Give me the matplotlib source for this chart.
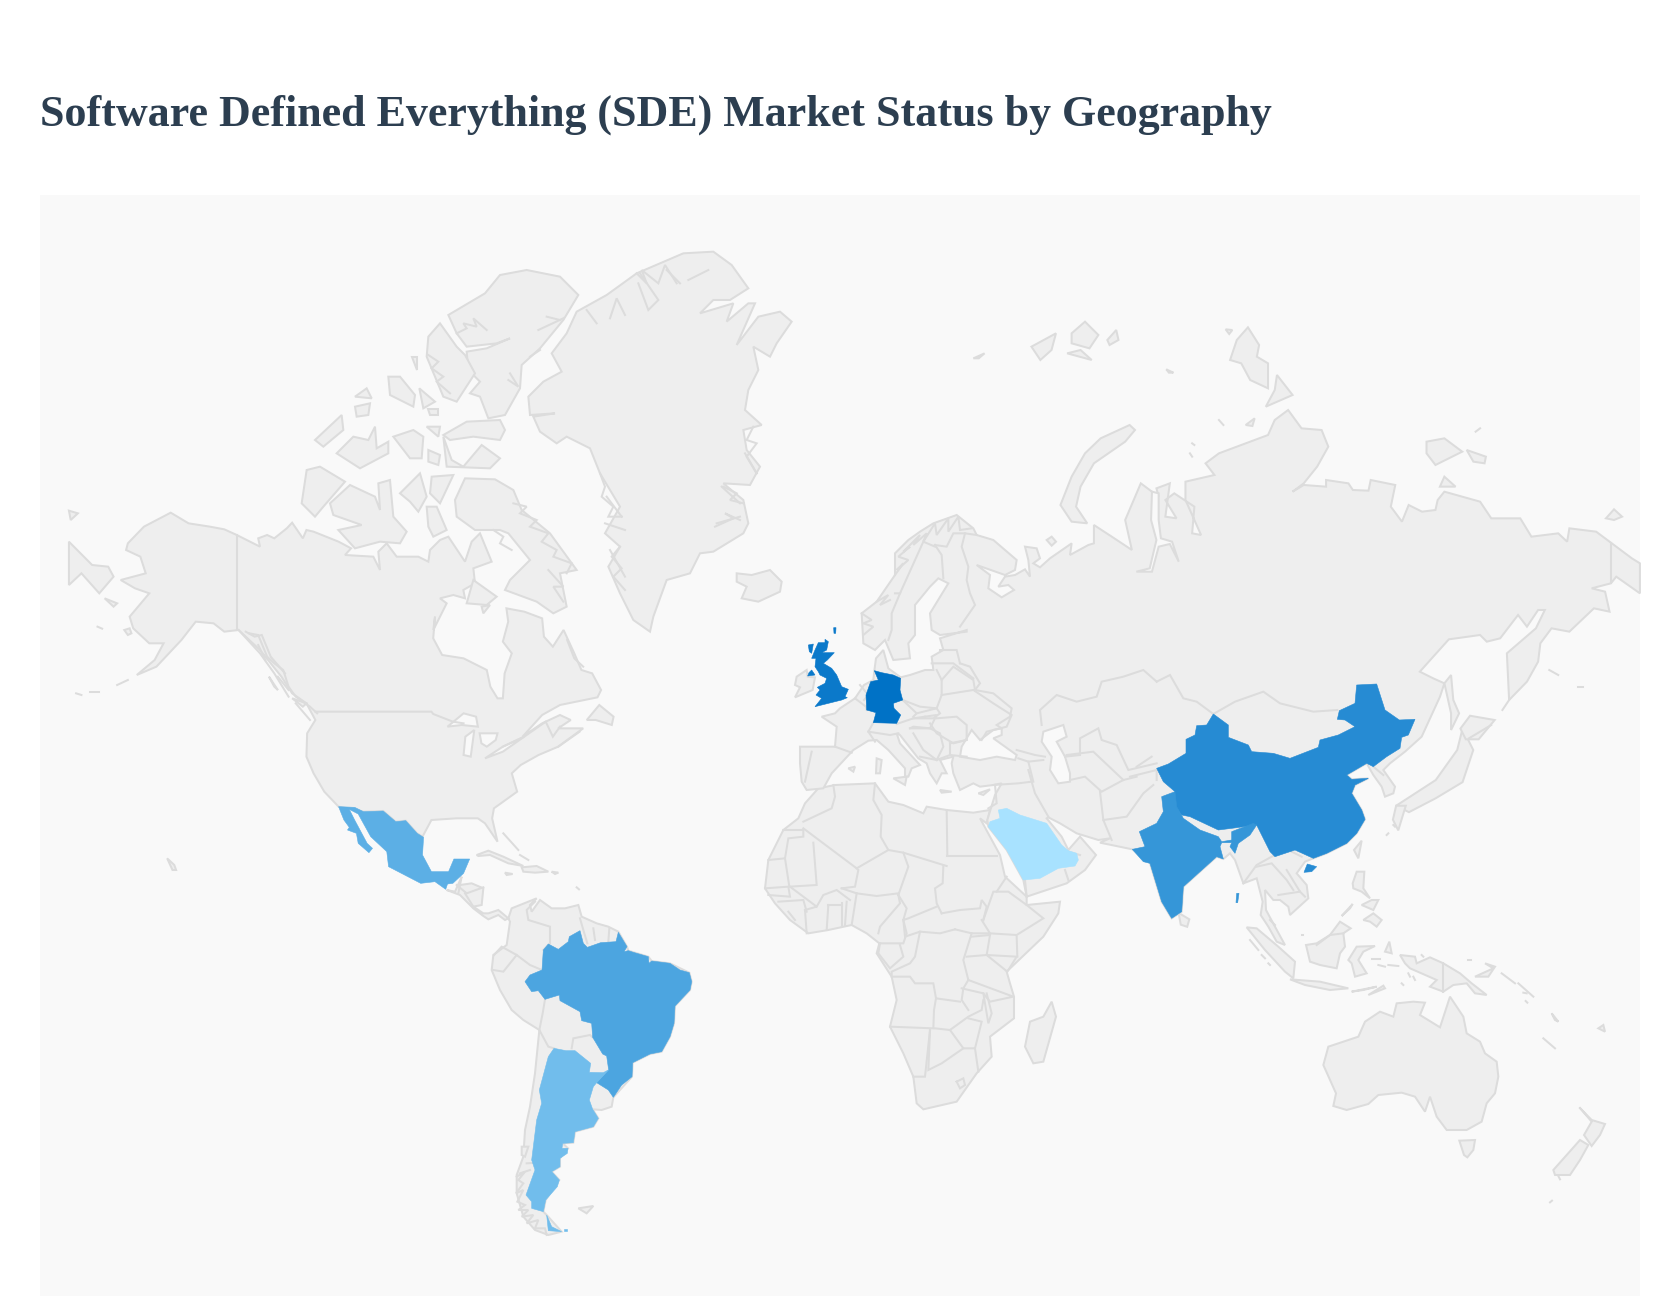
import numpy as np
import matplotlib
matplotlib.use("Agg")
import matplotlib.pyplot as plt
from matplotlib.colors import LinearSegmentedColormap, Normalize
from matplotlib.patches import Polygon, Rectangle

TITLE = "Software Defined Everything (SDE) Market Status by Geography"
COUNTRIES = ["Germany", "United Kingdom", "China", "India", "Brazil", "Mexico", "Argentina", "Saudi Arabia"]
VALUES = [100, 93, 77, 68, 55, 45, 33, 0]

Z1 = (740, 600, 3, 3); Z2 = (1100, 660, 3, 3); Z3 = (480, 900, 3, 3); Z4 = (300, 240, 3, 3)
Z5 = (60, 490, 2.8, 3); Z7 = (760, 780, 3, 3); Z8 = (960, 320, 2.24, 3); Z9 = (1230, 820, 3, 3)
Z10 = (960, 660, 3, 3); Z11 = (820, 480, 3, 3); Z12 = (440, 830, 3, 3); OV = (0, 0, 0.9333, 0.9333)

def rd(f, pts):
    a = np.array(pts, float)
    return np.column_stack([f[0] + a[:, 0] / f[2], f[1] + a[:, 1] / f[3]])

def chain(*parts):
    return np.vstack(parts)

# ---------- highlighted countries ----------
BRAZIL = [rd(Z3, [(415,97),(441,140),(432,155),(445,152),(460,157),(505,170),(507,190),(515,183),(570,190),(600,210),(628,218),(635,245),(630,270),(585,318),(582,370),(570,410),(545,455),(510,462),(458,488),(456,530),(425,555),(400,592),(385,570),(350,548),(386,510),(380,468),(368,462),(338,412),(335,370),(305,362),(300,335),(240,302),(238,285),(195,298),(175,272),(155,275),(135,245),(150,225),(186,210),(190,150),(205,132),(235,148),(265,125),(268,110),(300,92),(310,130),(322,142),(362,128),(408,125)])]
ARGENTINA = [rd(Z3, [(222,445),(258,452),(285,452),(332,490),(328,517),(370,518),(385,510),(350,548),(340,560),(328,600),(338,628),(355,655),(340,680),(285,695),(280,728),(248,730),(246,745),(264,745),(262,760),(240,775),(240,800),(215,815),(238,840),(232,860),(197,900),(190,935),(155,925),(155,905),(138,885),(165,810),(155,780),(165,700),(170,660),(185,610),(178,570),(205,470)]),
             rd(Z3, [(200,945),(215,980),(245,995),(205,992)]), rd(Z3, [(252,987),(262,987),(262,992),(252,992)])]
MEXICO = [rd(Z5, [(780,950),(825,952),(850,965),(905,963),(940,995),(968,992),(1000,1030),(1018,1042),(1015,1095),(1040,1145),(1088,1145),(1103,1107),(1147,1107),(1130,1150),(1100,1180),(1085,1182),(1080,1198),(1050,1175),(1010,1180),(920,1130),(915,1085),(870,1040),(835,972),(810,958),(825,990),(860,1060),(875,1075),(865,1088),(835,1060),(830,1030),(805,1020),(810,1012),(795,990)])]
UK = [rd(Z1, [(235,128),(255,128),(255,118),(265,125),(260,150),(245,158),(283,158),(262,180),(250,190),(275,205),(290,225),(305,260),(325,268),(315,290),(322,293),(305,300),(225,320),(245,295),(228,285),(240,270),(232,262),(255,250),(260,235),(240,225),(235,215),(225,200),(228,175),(215,175),(225,150)]),
      rd(Z1, [(215,210),(225,225),(203,228),(207,218)]), rd(Z1, [(205,135),(220,132),(215,160),(208,155)]),
      rd(Z1, [(281,83),(288,83),(287,100),(282,100)])]
GERMANY = [rd(Z1, [(403,212),(425,218),(460,225),(482,235),(480,270),(488,300),(460,310),(462,325),(482,345),(470,370),(400,368),(408,338),(380,330),(378,285),(392,245),(415,240)])]
CHINA = [rd(Z2, [(340,162),(385,195),(385,232),(445,255),(455,275),(520,280),(570,295),(655,262),(660,240),(715,225),(765,200),(735,180),(712,178),(718,152),(765,130),(770,75),(830,72),(855,150),(898,180),(945,178),(925,225),(905,232),(900,265),(860,290),(820,320),(800,310),(740,345),(755,358),(805,355),(765,375),(755,400),(785,450),(795,478),(770,520),(740,550),(680,580),(640,595),(585,570),(525,590),(510,575),(470,495),(395,505),(355,510),(270,470),(245,465),(225,440),(225,395),(190,365),(170,325),(205,312),(258,280),(258,238),(285,225),(290,197),(320,195)]),
         rd(Z2, [(622,612),(650,620),(635,635),(612,637)])]
INDIA = [rd(Z2, [(185,410),(225,395),(230,440),(250,475),(300,510),(355,530),(365,545),(395,540),(395,515),(460,490),(470,495),(450,525),(415,550),(405,580),(390,560),(395,548),(365,548),(360,560),(370,597),(350,590),(250,680),(245,755),(215,775),(185,725),(150,610),(130,605),(97,568),(135,560),(118,515),(170,490),(190,455)]),
         rd(Z2, [(410,700),(417,700),(413,728),(408,728)])]
SAUDI = [rd(Z7, [(740,85),(780,105),(860,130),(905,195),(925,212),(950,220),(955,240),(945,258),(895,265),(840,295),(790,300),(740,210),(685,140),(690,125),(720,115),(715,90)])]
SHAPES = [GERMANY, UK, CHINA, INDIA, BRAZIL, MEXICO, ARGENTINA, SAUDI]

# ---------- grey land ----------
NORTH_AMERICA = chain(
    rd(Z5, [(310,68),(360,100),(420,110),(460,118),(495,135),(560,170),(555,145),(580,135),(600,145),(635,115),(650,98),(680,145),(690,120),(710,125),(780,155),(815,175)]),
    rd(Z4, [(135,945),(220,950),(240,990),(235,935),(260,910),(290,950),(355,950),(385,965),(390,930),(420,900),(445,890),(495,965),(515,905),(540,880),(575,965),(520,985),(525,1030),(490,1050),(495,1075),(460,1065),(420,1075),(440,1090),(400,1170)]),
    rd(Z5, [(1050,380),(1045,445),(1070,495),(1130,505),(1195,540),(1205,590),(1225,625),(1240,625),(1245,550),(1265,490),(1240,455),(1255,395),(1250,355),(1300,365),(1350,385),(1355,440),(1380,470),(1410,420),(1440,490),(1460,540),(1490,550),(1515,600),(1505,622),(1400,645),(1350,675),(1295,740),(1350,700),(1400,675),(1430,690),(1395,715),(1465,715),(1395,770),(1340,795),(1290,825),(1265,850),(1280,905),(1215,955),(1210,985),(1225,1055),(1190,1000),(1170,985),(1110,985),(1040,990),(1015,1040),(1000,1030),(968,992),(940,995),(905,963),(850,965),(780,950),(740,905),(710,850),(690,800),(692,730),(715,690),(690,640),(650,610),(620,560),(560,480),(500,420),(460,425),(430,400),(380,395),(340,450),(270,530),(215,555),(265,510),(290,460),(250,460),(205,415),(195,380),(250,310),(210,295),(170,270),(240,250),(225,200),(185,180),(190,160),(235,110)]))
GREENLAND = rd(Z4, [(685,470),(730,425),(785,395),(755,340),(800,280),(830,215),(920,165),(1010,100),(1150,40),(1240,35),(1295,75),(1345,145),(1290,180),(1240,180),(1200,220),(1300,190),(1280,245),(1345,190),(1365,190),(1310,315),(1375,230),(1440,215),(1475,245),(1430,310),(1410,350),(1360,320),(1375,390),(1345,450),(1335,510),(1385,555),(1330,570),(1340,630),(1380,680),(1350,735),(1270,730),(1330,780),(1345,850),(1330,880),(1240,935),(1200,940),(1170,1000),(1100,1020),(1060,1130),(1050,1175),(1000,1140),(960,1060),(925,980),(960,920),(915,880),(960,800),(900,700),(870,625),(800,590),(770,610),(720,575),(700,530),(765,520),(690,525)])
SOUTH_AMERICA = chain(
    rd(Z12, [(205,265),(215,235),(290,205),(270,225),(275,245),(300,210),(335,235),(375,235),(415,225),(425,260),(470,280),(505,290),(535,305)]),
    rd(Z3, [(441,140),(445,152),(505,170),(515,183),(570,190),(628,218),(635,245),(630,270),(585,318),(582,370),(570,410),(545,455),(510,462),(458,488),(456,530),(400,592),(395,620),(365,630),(338,628),(355,655),(340,680),(285,695),(280,728),(248,730),(264,745),(240,775),(240,800),(215,815),(238,840),(197,900),(190,935),(200,945),(245,995),(205,1005),(165,990),(130,950),(110,880),(110,825),(130,770),(135,690),(150,620),(165,520),(178,390),(130,360),(95,330),(60,270),(35,210),(40,165),(80,135),(90,65)]))
CENTRAL_AMERICA = rd(Z12, [(20,180),(45,185),(65,140),(60,165),(95,160),(130,175),(125,225),(100,230),(130,250),(145,250),(175,240),(205,265),(195,270),(175,255),(145,268),(130,258),(100,235),(60,195)])
AFRICA = rd(Z7, [(175,25),(225,15),(345,10),(385,65),(430,75),(490,100),(500,80),(560,90),(640,98),(690,90),(680,130),(660,115),(720,225),(735,290),(800,350),(800,375),(900,365),(895,400),(850,470),(740,575),(750,610),(762,650),(762,715),(690,770),(695,830),(650,880),(590,965),(490,988),(470,970),(460,890),(430,820),(390,740),(410,660),(395,590),(350,520),(358,490),(320,460),(275,435),(205,450),(145,460),(90,420),(45,370),(15,325),(25,240),(70,150),(115,115),(135,70)])
EURASIA = chain(
    rd(Z1, [(200,570),(185,545),(180,490),(180,440),(285,440),(290,380),(245,350),(285,340),(300,325),(345,295),(372,255),(400,240),(403,212),(408,175),(430,150),(445,205),(482,232),(510,225),(555,210),(580,210),(575,170),(610,150),(600,115),(680,90)]),
    rd(Z11, [(440,455),(360,465),(335,450),(330,400),(385,310),(355,295),(330,320),(285,375),(285,465),(265,490),(270,535),(220,540),(195,480),(165,510),(130,490),(125,400),(170,365),(225,285),(225,220),(265,180),(300,155),(340,130),(410,105),(460,145),(470,165),(520,180),(590,240),(585,270),(555,285),(470,255),(510,285),(505,325),(545,352),(582,330),(565,315),(535,320),(555,290),(585,285),(615,268),(630,290),(625,240),(615,200),(650,205),(660,235),(640,250),(660,262),(690,235),(755,190),(750,225),(805,195)]),
    rd(Z8, [(300,670),(300,615),(340,650),(385,690),(370,600),(405,490),(430,515),(445,530),(440,505),(470,490),(460,590),(485,595),(460,540),(480,520),(525,560),(520,640),(540,645),(505,540),(505,485),(570,465),(550,430),(580,400),(640,370),(690,345),(705,300),(735,270),(765,325),(810,330),(825,380),(800,440),(770,490),(745,515),(770,495),(820,500),(820,480),(870,490),(880,510),(915,512),(920,480),(975,495),(965,560),(990,605),(1005,555),(1035,575),(1065,570),(1070,540),(1085,515),(1165,545),(1190,595),(1255,595),(1280,650),(1340,640),(1360,665),(1365,625),(1425,635),(1505,715),(1523,730),(1523,820),(1470,770),(1458,790),(1415,805),(1445,815),(1455,875),(1420,865),(1365,935),(1325,925),(1300,970),(1295,1025),(1270,1085),(1230,1140),(1225,1000),(1290,925),(1310,870),(1295,870),(1270,920),(1250,885),(1210,955),(1180,965),(1165,945),(1095,958),(1030,1055),(1060,1075),(1085,1090)]),
    rd(Z2, [(1020,110),(965,230),(915,275),(870,310),(850,330),(885,380),(880,400),(855,410),(845,380),(820,345),(800,310),(740,345),(755,358),(805,355),(765,375),(755,400),(785,450),(795,478),(770,520),(740,550),(680,580),(640,595)]),
    rd(Z9, [(225,125),(200,160),(230,195),(235,235),(180,285),(175,260),(150,240),(130,240),(105,210),(108,270),(135,320),(165,375),(140,365),(115,320),(92,285),(98,245),(80,175),(40,190),(15,120),(0,100)]),
    rd(Z2, [(370,597),(350,590),(250,680),(245,755),(215,775),(185,725),(150,610),(97,568),(0,548)]),
    rd(Z10, [(450,535),(415,540),(350,520),(300,490),(265,472)]),
    rd(Z7, [(860,115),(905,170),(925,210),(960,170),(1008,225),(975,270),(920,310),(800,350),(790,300),(740,210),(685,140),(682,120),(705,45),(725,10)]),
    rd(Z10, [(100,375),(60,380),(40,370),(0,390)]),
    rd(Z1, [(640,520),(635,490),(640,470),(600,480),(620,520),(605,520),(590,550),(570,520),(560,490),(535,475),(480,405),(470,400),(480,430),(540,495),(515,505),(505,530),(495,530),(495,505),(445,450),(410,420),(385,422),(340,450),(275,520),(250,565)]))
ISLANDS = [
    rd(Z4, [(445,225),(555,160),(600,105),(680,90),(780,110),(835,165),(790,240),(720,325),(665,375),(660,445),(615,525),(565,535),(540,470),(510,460),(540,425),(505,390),(500,335),(560,325),(630,295),(590,310),(500,320),(470,280)]),
    rd(Z4, [(420,250),(470,320),(495,345),(525,400),(470,485),(430,470),(405,410),(380,350),(385,290)]),
    rd(Z4, [(430,585),(500,545),(600,540),(615,570),(600,600),(520,590),(450,600)]),
    rd(Z4, [(430,590),(455,660),(490,680),(545,615),(600,655),(570,685),(440,680)]),
    rd(Z4, [(5,790),(20,690),(60,680),(135,725),(70,800),(45,830)]),
    rd(Z4, [(90,790),(150,735),(225,770),(240,810),(235,730),(270,720),(280,830),(320,875),(300,910),(240,905),(165,925),(115,870),(185,855),(100,825)]),
    rd(Z4, [(300,760),(360,700),(380,770),(355,815),(330,785)]),
    rd(Z4, [(395,710),(460,705),(420,790),(390,760)]),
    rd(Z4, [(380,800),(410,800),(440,870),(400,890),(385,860)]),
    rd(Z4, [(465,780),(495,715),(585,718),(640,750),(665,810),(750,880),(830,990),(780,1000),(800,1100),(760,1120),(710,1085),(615,1050),(630,1020),(690,960),(625,880),(600,870),(525,870),(470,830)]),
    rd(Z4, [(110,640),(160,590),(205,600),(225,560),(230,625),(265,605),(265,640),(180,685)]),
    rd(Z4, [(280,590),(340,570),(370,590),(365,655),(330,655)]),
    rd(Z4, [(45,600),(125,525),(130,570),(70,620)]),
    rd(Z4, [(265,410),(300,410),(345,465),(340,500),(270,465)]),
    rd(Z4, [(358,445),(405,485),(370,505)]),
    rd(Z4, [(385,507),(415,507),(415,525),(390,525)]),
    rd(Z4, [(165,470),(200,445),(215,475)]),
    rd(Z4, [(165,500),(210,490),(205,525),(170,530)]),
    rd(Z4, [(380,560),(420,560),(415,590)]),
    rd(Z4, [(385,630),(420,645),(415,675),(385,665)]),
    rd(Z4, [(500,1090),(520,1020),(590,1070),(560,1095)]),
    rd(Z4, [(545,1100),(570,1095),(550,1120)]),
    rd(Z4, [(335,350),(350,350),(350,390)]),
    rd(Z4, [(1310,1000),(1355,1005),(1410,990),(1445,1025),(1440,1055),(1375,1085),(1325,1075),(1340,1040),(1310,1025)]),
    rd(Z5, [(25,155),(90,225),(135,230),(150,260),(110,310),(60,250),(25,285)]),
    rd(Z5, [(125,325),(160,340),(150,350)]),
    rd(Z5, [(25,62),(50,70),(30,90)]),
    rd(Z5, [(300,1105),(320,1125),(325,1140),(315,1140)]),
    rd(Z5, [(180,420),(195,415),(200,430),(190,435)]),
    rd(Z5, [(1475,690),(1510,645),(1550,680),(1545,705),(1500,690)]),
    rd(Z5, [(585,560),(610,600),(600,590)]),
    rd(Z5, [(650,625),(690,640),(680,650)]),
    rd(Z12, [(110,75),(145,62),(190,80),(250,108),(205,100),(150,75),(115,78)]),
    rd(Z12, [(245,112),(290,108),(325,125),(285,128),(250,125)]),
    rd(Z12, [(195,128),(218,132),(200,135)]),
    rd(Z12, [(335,125),(355,128),(345,132)]),
    rd(Z1, [(170,230),(200,210),(203,230),(225,232),(218,270),(165,292),(180,262),(165,255)]),
    rd(Z1, [(410,475),(425,480),(420,520),(408,520)]),
    rd(Z1, [(460,535),(500,530),(495,555)]),
    rd(Z1, [(600,570),(635,575),(605,578)]),
    rd(Z1, [(325,505),(345,500),(340,515)]),
    rd(Z7, [(875,665),(888,710),(850,845),(820,850),(795,800),(810,725),(850,710)]),
    rd(Z3, [(295,925),(340,918),(320,940)]),
    rd(Z3, [(125,740),(145,740),(135,770),(125,765)]),
    rd(Z8, [(315,355),(380,315),(392,330),(370,365),(300,430),(270,500),(260,560),(285,610),(250,605),(225,555),(250,470),(280,400)]),
    rd(Z8, [(645,22),(670,75),(665,110),(690,130),(690,205),(650,180),(630,130),(605,120),(620,60)]),
    rd(Z8, [(710,165),(745,225),(685,260),(705,210)]),
    rd(Z8, [(160,80),(215,40),(205,90),(180,120)]),
    rd(Z8, [(250,40),(280,5),(310,45),(290,85),(250,70)]),
    rd(Z8, [(240,100),(270,90),(295,120)]),
    rd(Z8, [(330,60),(350,30),(355,60),(335,75)]),
    rd(Z8, [(1045,365),(1085,355),(1125,395),(1065,435),(1045,400)]),
    rd(Z8, [(1135,390),(1178,410),(1175,430),(1150,425)]),
    rd(Z8, [(1075,500),(1085,470),(1110,500)]),
    rd(Z8, [(1447,595),(1465,568),(1483,590),(1465,600)]),
    rd(Z8, [(30,115),(55,100),(42,115)]),
    rd(Z8, [(595,28),(610,30),(603,42)]),
    rd(Z8, [(640,315),(660,295),(655,318)]),
    rd(Z8, [(462,148),(478,158),(468,158)]),
    rd(Z8, [(1085,1090),(1100,1065),(1105,1140),(1118,1180),(1100,1230),(1100,1180)]),
    rd(Z11, [(680,180),(695,170),(708,185),(695,197)]),
    rd(OV, [(1303,752),(1340,728),(1360,700),(1365,680),(1375,700),(1365,730),(1340,745),(1315,758)]),
    rd(OV, [(1363,680),(1372,668),(1395,672),(1380,690),(1368,690)]),
    rd(OV, [(1303,752),(1312,752),(1305,775),(1300,765)]),
    rd(OV, [(1100,852),(1110,858),(1108,865),(1102,863)]),
    rd(Z10, [(55,400),(90,388),(70,405)]),
    rd(Z9, [(50,322),(80,325),(145,380),(195,425),(190,475),(165,455),(105,390)]),
    rd(Z9, [(180,478),(270,485),(355,505),(300,510),(225,495)]),
    rd(Z9, [(228,375),(260,370),(300,345),(330,305),(362,325),(340,340),(345,380),(330,400),(320,445),(270,435),(240,425)]),
    rd(Z9, [(355,420),(380,380),(435,378),(400,395),(385,420),(410,460),(375,470),(365,430)]),
    rd(Z9, [(368,190),(380,155),(403,155),(400,205),(420,235),(395,215),(370,205)]),
    rd(Z9, [(400,300),(430,280),(455,300),(440,320),(420,305)]),
    rd(Z9, [(395,255),(425,240),(445,240),(430,270)]),
    rd(Z9, [(335,288),(368,252),(360,265)]),
    rd(Z9, [(372,90),(395,62),(385,115)]),
    rd(Z9, [(510,405),(555,410),(560,430),(600,412),(640,430),(690,460),(725,490),(770,525),(735,520),(710,490),(670,495),(640,515),(600,500),(620,480),(540,445),(525,430)]),
    rd(Z9, [(735,470),(790,445),(765,430),(795,440),(775,470)]),
    rd(Z9, [(415,525),(460,497),(465,505)]),
    rd(Z9, [(365,515),(440,500),(400,510)]),
    rd(Z9, [(465,395),(478,365),(485,400)]),
    rd(Z9, [(1048,862),(1085,900),(1125,912),(1110,945),(1085,978),(1062,945),(1085,905)]),
    rd(Z9, [(970,1050),(1050,960),(1075,975),(1050,1020),(1020,1065),(975,1065)]),
    rd(Z9, [(280,735),(295,680),(385,650),(405,605),(450,575),(490,590),(500,550),(550,545),(585,548),(570,585),(630,622),(660,530),(700,590),(710,640),(750,665),(765,700),(800,725),(805,770),(795,820),(770,850),(755,905),(710,930),(650,930),(620,890),(600,830),(585,875),(555,830),(515,818),(445,825),(415,852),(350,870),(310,858),(318,820)]),
    rd(Z9, [(688,962),(735,960),(730,990),(712,1012),(702,1005)]),
    rd(Z9, [(1105,625),(1120,615),(1125,635)]),
    rd(Z9, [(965,580),(985,605),(975,600)]),
]
SEAS = [
    rd(Z10, [(5,260),(35,210),(60,240),(100,210),(125,205),(125,225),(100,235),(170,285),(165,300),(110,290),(60,300),(0,290)]),
    rd(Z10, [(250,215),(310,195),(320,230),(290,245),(315,290),(330,340),(330,365),(295,370),(270,330),(275,290),(245,245)]),
    rd(Z5, [(1085,710),(1130,670),(1165,680),(1170,710),(1125,705)]),
    rd(Z5, [(1135,740),(1160,720),(1150,800),(1130,795)]),
    rd(Z5, [(1175,730),(1225,730),(1220,750),(1195,770),(1180,760)]),
    rd(Z5, [(1190,805),(1240,770),(1300,740),(1240,785)]),
    rd(Z8, [(430,515),(445,520),(445,600),(450,655),(475,665),(490,725),(470,672),(445,680),(430,755),(395,755),(425,745),(440,660),(428,600)]),
]
BORDERS = [
    # Americas
    rd(Z5, [(495,135),(495,420)]),
    rd(Z5, [(715,665),(1040,665),(1045,672),(1100,695),(1130,700)]),
    rd(Z5, [(1240,770),(1300,740),(1360,695),(1380,740),(1400,710)]),
    rd(Z5, [(500,420),(560,490),(600,550),(640,620)]),
    rd(Z5, [(520,425),(545,440),(565,435),(590,500),(630,550)]),
    rd(Z3, [(165,5),(140,30),(145,60),(210,80),(210,130),(190,150)]),
    rd(Z3, [(42,165),(65,140),(110,165),(150,195),(186,210)]),
    rd(Z3, [(40,210),(70,215),(110,165)]),
    rd(Z3, [(195,298),(188,340),(178,390),(205,440),(222,445)]),
    rd(Z3, [(275,445),(280,415),(330,405),(338,412)]),
    rd(Z3, [(300,55),(310,90),(322,130)]),
    rd(Z3, [(340,85),(345,120)]), rd(Z3, [(388,85),(385,125)]),
    rd(Z12, [(60,165),(55,190)]), rd(Z12, [(50,165),(80,190),(130,172)]), rd(Z12, [(100,230),(75,190)]),
    # Africa
    rd(Z7, [(130,125),(215,85),(225,50),(220,15)]),
    rd(Z7, [(70,150),(130,150),(130,170),(85,175),(75,235),(25,240)]),
    rd(Z7, [(160,188),(170,315),(88,320),(75,235)]),
    rd(Z7, [(130,145),(290,265),(385,210)]),
    rd(Z7, [(290,265),(295,270),(285,320),(245,325)]),
    rd(Z7, [(345,10),(340,60),(365,105),(362,170),(385,210),(430,218),(560,258)]),
    rd(Z7, [(560,90),(562,225)]), rd(Z7, [(562,228),(710,228)]),
    rd(Z7, [(430,218),(445,260),(415,345)]),
    rd(Z7, [(245,325),(290,340),(350,348),(415,340)]),
    rd(Z7, [(550,258),(548,310),(525,325),(530,370),(545,400)]),
    rd(Z7, [(415,345),(440,385),(430,420),(445,415),(530,380)]),
    rd(Z7, [(415,345),(420,370),(360,440),(355,460)]),
    rd(Z7, [(290,340),(275,435)]), rd(Z7, [(260,365),(255,435)]), rd(Z7, [(245,370),(245,435)]),
    rd(Z7, [(205,375),(200,450)]), rd(Z7, [(205,375),(245,375)]),
    rd(Z7, [(170,380),(190,345),(230,330),(270,360)]),
    rd(Z7, [(135,390),(140,460)]),
    rd(Z7, [(15,325),(85,320),(90,350),(25,345)]),
    rd(Z7, [(55,365),(130,360),(140,395)]), rd(Z7, [(85,395),(105,420)]),
    rd(Z7, [(90,320),(170,380),(135,390)]),
    rd(Z7, [(360,490),(430,490),(440,460),(430,420)]),
    rd(Z7, [(430,420),(435,470),(480,455),(540,460),(585,448)]),
    rd(Z7, [(545,400),(600,390),(660,385),(665,360),(680,380),(670,420)]),
    rd(Z7, [(585,448),(635,460),(690,460),(665,420)]),
    rd(Z7, [(635,460),(610,540),(625,600),(610,625),(605,660),(625,690)]),
    rd(Z7, [(480,455),(465,530),(450,550),(395,575),(395,590),(450,590),(465,610),(520,610),(528,655),(600,665)]),
    rd(Z7, [(360,490),(355,520),(390,565),(430,530),(420,495)]),
    rd(Z7, [(528,655),(522,690),(520,745),(390,740)]),
    rd(Z7, [(525,745),(570,750),(625,710),(665,690),(670,660)]),
    rd(Z7, [(625,600),(760,650),(690,665),(670,640),(605,625)]),
    rd(Z7, [(680,525),(770,530),(742,575),(680,525)]),
    rd(Z7, [(635,470),(690,465),(680,525),(620,530)]),
    rd(Z7, [(770,470),(772,530)]),
    rd(Z7, [(670,420),(700,335),(745,335),(800,375),(850,415),(770,465),(690,460)]),
    rd(Z7, [(710,335),(740,290)]),
    rd(Z7, [(670,640),(685,730),(695,700),(680,640)]),
    rd(Z7, [(570,750),(610,805),(645,805),(665,725),(625,715)]),
    rd(Z7, [(510,750),(505,870),(545,850),(610,805)]),
    rd(Z7, [(510,750),(495,890),(460,890)]),
    rd(Z7, [(645,805),(655,875)]),
    rd(Z7, [(590,905),(610,895),(615,915),(600,925),(590,905)]),
    # Europe
    rd(Z1, [(215,455),(195,545)]),
    rd(Z1, [(285,440),(335,458)]),
    rd(Z1, [(345,295),(378,320),(380,330)]),
    rd(Z1, [(400,368),(385,395),(405,425)]),
    rd(Z1, [(360,255),(385,285),(372,300)]),
    rd(Z1, [(470,372),(520,355),(555,350)]),
    rd(Z1, [(385,395),(450,405),(475,400)]),
    rd(Z1, [(488,300),(540,320),(590,325),(605,285),(605,240),(590,210)]),
    rd(Z1, [(488,300),(530,340),(520,350)]),
    rd(Z1, [(530,340),(590,325),(600,340),(580,355),(520,355)]),
    rd(Z1, [(605,285),(700,270),(760,310),(815,345),(800,380),(740,395),(725,420)]),
    rd(Z1, [(605,240),(640,200),(700,240),(705,270)]),
    rd(Z1, [(575,190),(640,190),(700,235)]),
    rd(Z1, [(600,150),(650,150),(660,190)]),
    rd(Z1, [(590,355),(650,350),(680,375),(680,420),(640,430),(590,400),(570,370)]),
    rd(Z1, [(630,430),(680,420)]), rd(Z1, [(630,430),(630,465),(680,470)]),
    rd(Z1, [(555,350),(590,345),(570,385),(520,380),(510,385)]),
    rd(Z1, [(510,385),(570,385),(600,400),(610,440),(590,480)]),
    rd(Z1, [(540,470),(590,480),(630,465)]),
    rd(Z1, [(520,400),(550,450),(590,480)]),
    rd(Z11, [(225,340),(240,340),(215,400),(215,450),(205,480)]),
    rd(Z11, [(240,340),(310,185),(345,200)]),
    rd(Z11, [(345,195),(365,225),(370,295)]),
    rd(Z11, [(435,160),(425,200),(445,260),(440,300),(450,340),(465,375),(420,440)]),
    rd(Z11, [(345,195),(380,200),(400,160),(435,160),(470,165)]),
    # Asia
    rd(Z10, [(0,10),(30,20),(60,70),(45,90),(100,100),(155,145),(150,170),(110,195),(125,205)]),
    rd(Z10, [(245,195),(240,150),(290,105),(350,125),(410,110),(425,65),(490,50),(550,30),(590,65)]),
    rd(Z2, [(170,65),(210,45),(250,115),(290,125),(340,162)]),
    rd(Z2, [(340,162),(405,125),(490,95),(540,130),(640,155),(712,150)]),
    rd(Z10, [(170,270),(225,285),(255,290)]),
    rd(Z10, [(175,295),(205,305),(250,300)]),
    rd(Z10, [(205,305),(220,365)]),
    rd(Z10, [(205,330),(225,400),(265,470)]),
    rd(Z10, [(100,375),(175,370),(215,365)]),
    rd(Z10, [(105,375),(110,430),(85,445)]),
    rd(Z10, [(420,395),(430,480),(455,540)]),
    rd(Z10, [(330,360),(375,350),(425,395),(490,360),(530,350)]),
    rd(Z10, [(430,480),(500,470),(550,400),(580,375)]),
    rd(Z10, [(315,290),(360,285),(360,235),(415,205),(425,240),(470,255),(505,330),(590,310)]),
    rd(Z10, [(320,285),(400,275),(490,360)]),
    rd(Z10, [(510,350),(590,330),(590,360)]),
    rd(Z10, [(530,320),(575,290)]),
    rd(Z7, [(800,350),(795,300)]), rd(Z7, [(915,270),(925,300)]), rd(Z7, [(925,215),(960,225)]),
    rd(Z9, [(40,190),(80,135),(125,110),(175,90),(215,110)]),
    rd(Z9, [(80,140),(125,130),(170,180),(190,210)]),
    rd(Z9, [(145,225),(210,215)]),
    rd(Z9, [(170,150),(210,215),(225,230)]),
    rd(Z9, [(120,300),(135,315)]),
    rd(Z9, [(640,430),(640,515)]),
    rd(Z8, [(1458,670),(1458,790)]),
    rd(Z2, [(820,320),(850,345)]),
]
# ---------- jagged coast and small island strokes ----------
COAST_DETAIL = [
    rd(Z3, [(110,830),(135,815),(115,840),(130,850),(108,880),(130,870),(112,905),(135,915),(115,930),(145,930),(125,950),(160,945),(140,970),(175,960),(165,985),(195,985),(200,1005)]),
    rd(Z3, [(140,790),(175,788)]), rd(Z3, [(120,820),(150,810)]),
    rd(Z11, [(125,400),(155,420),(130,430),(160,440),(130,465)]),
    rd(Z11, [(170,365),(205,345),(180,375),(210,360)]),
    rd(Z11, [(225,285),(250,250),(230,270),(265,240),(235,230),(270,200),(250,215),(300,165),(280,195),(320,160),(310,185),(345,130),(350,165),(385,115),(385,155),(415,110),(420,150),(455,145)]),
    rd(Z4, [(470,280),(500,265),(490,250),(530,260),(520,235),(560,270)]),
    rd(Z4, [(715,270),(790,235)]), rd(Z4, [(740,230),(780,240)]), rd(Z4, [(690,350),(720,330)]),
    rd(Z4, [(630,400),(655,440),(625,420)]),
    rd(Z4, [(640,790),(680,800),(660,820),(710,840),(690,860),(745,880),(725,905),(770,930),(760,950),(815,970),(800,1000)]),
    rd(Z4, [(745,990),(790,1040),(760,1040),(790,1085)]),
    rd(Z4, [(580,870),(610,890),(600,910),(635,930)]),
    rd(Z4, [(385,345),(415,365),(395,385),(430,410),(410,425),(450,460)]),
    rd(Z4, [(1100,90),(1140,130)]), rd(Z4, [(1020,100),(1075,180),(1045,210),(1015,130)]), rd(Z4, [(930,235),(950,175),(975,225)]),
    rd(Z4, [(1165,120),(1225,90)]), rd(Z4, [(920,770),(965,830)]), rd(Z4, [(1265,740),(1320,790)]),
    rd(Z4, [(1250,850),(1320,830)]), rd(Z4, [(930,930),(975,1010)]), rd(Z4, [(860,210),(890,250)]),
    rd(Z4, [(1335,640),(1370,700)]), rd(Z4, [(915,850),(975,870)]),
    rd(Z4, [(900,700),(915,740),(905,770),(940,800),(925,830),(965,830)]),
    rd(Z4, [(960,920),(935,950),(965,985),(940,1010),(975,1050)]),
    rd(Z4, [(1360,560),(1340,600),(1370,610),(1340,650),(1370,700)]),
    rd(Z4, [(1270,740),(1310,760),(1290,780),(1330,790)]),
    rd(Z4, [(1245,860),(1300,835),(1275,820),(1320,840)]),
    rd(Z4, [(1010,100),(1040,130),(1025,90),(1075,130),(1095,75),(1130,130)]),
    rd(Z5, [(530,430),(555,435),(580,500),(600,520),(625,540),(640,590),(660,620),(700,650),(720,670)]),
    rd(Z5, [(555,465),(575,510)]), rd(Z5, [(610,560),(640,600)]), rd(Z5, [(660,640),(700,690)]),
    rd(Z5, [(1420,450),(1440,505),(1465,530)]), rd(Z5, [(1395,770),(1455,725)]),
    rd(Z5, [(160,585),(190,570)]), rd(Z5, [(85,605),(110,605)]), rd(Z5, [(45,610),(60,615)]), rd(Z5, [(105,410),(118,416)]),
    rd(Z8, [(1140,1255),(1190,1215)]), rd(Z8, [(1215,1170),(1230,1140)]), rd(Z8, [(1320,1050),(1340,1065)]),
    rd(Z8, [(1385,1100),(1395,1100)]), rd(Z8, [(1155,335),(1165,325)]), rd(Z8, [(515,400),(520,410)]),
    rd(Z8, [(580,300),(590,315)]), rd(Z8, [(520,370),(525,375)]),
    rd(Z9, [(815,460),(855,490)]), rd(Z9, [(865,490),(910,530)]), rd(Z9, [(940,655),(975,685)]),
    rd(Z9, [(425,418),(450,418)]), rd(Z9, [(445,435),(465,440)]), rd(Z9, [(475,435),(505,438)]),
    rd(Z9, [(535,460),(540,470)]), rd(Z9, [(550,470),(555,480)]), rd(Z9, [(515,490),(520,495)]),
    rd(Z9, [(60,360),(85,390)]), rd(Z9, [(95,405),(105,415)]), rd(Z9, [(115,430),(120,435)]),
    rd(Z9, [(215,345),(220,345)]), rd(Z9, [(880,518),(890,520)]), rd(Z9, [(715,420),(722,420)]),
    rd(Z9, [(470,45),(475,40)]), rd(Z9, [(490,15),(495,20)]), rd(Z9, [(887,543),(892,548)]),
    rd(Z9, [(575,405),(580,410)]), rd(Z9, [(985,1068),(990,1078)]), rd(Z9, [(960,1147),(966,1142)]),
    rd(Z9, [(260,375),(300,345),(340,340)]),
    rd(Z12, [(190,10),(235,60)]), rd(Z12, [(240,75),(265,90)]), rd(Z12, [(410,172),(417,178)]),
]

fig = plt.figure(figsize=(16.8, 13.04), dpi=100, facecolor="white")
ax = fig.add_axes([0, 0, 1, 1])
ax.set_xlim(0, 1680); ax.set_ylim(1304, 0); ax.axis("off")

OCEAN = "#f9f9f9"; LAND = "#eeeeee"; EDGE = "#dcdcdc"; LW = 1.45
ax.add_patch(Rectangle((40, 195), 1600, 1101, fc=OCEAN, ec="none", zorder=0))

lands = [NORTH_AMERICA, GREENLAND, SOUTH_AMERICA, CENTRAL_AMERICA, AFRICA, EURASIA] + ISLANDS
for p in lands:
    ax.add_patch(Polygon(p, closed=True, fc=LAND, ec=EDGE, lw=LW, joinstyle="miter", zorder=1))
for p in SEAS:
    ax.add_patch(Polygon(p, closed=True, fc=OCEAN, ec=EDGE, lw=LW, zorder=2))
for b in BORDERS + COAST_DETAIL:
    ax.plot(b[:, 0], b[:, 1], color=EDGE, lw=LW, zorder=3, solid_joinstyle="miter")

cmap = LinearSegmentedColormap.from_list("sde", ["#a8e2ff", "#0072c6"])
norm = Normalize(min(VALUES), max(VALUES))
for name, val, parts in zip(COUNTRIES, VALUES, SHAPES):
    col = cmap(norm(val))
    for p in parts:
        ax.add_patch(Polygon(p, closed=True, fc=col, ec=col, lw=0.4, zorder=4, label=name))

ax.text(40, 126, TITLE, family="Liberation Serif", weight="bold", fontsize=31.7, color="#2c3e50", va="baseline", ha="left")
fig.savefig("out.png", dpi=100)
